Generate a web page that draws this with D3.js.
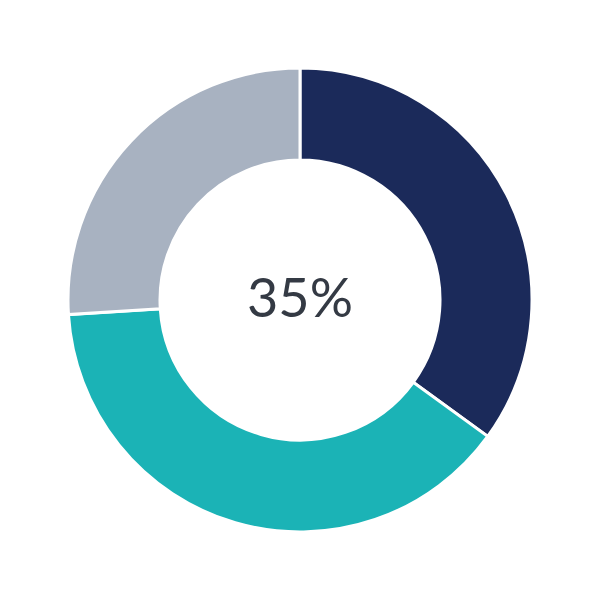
<!DOCTYPE html>
<html>
<head>
<meta charset="utf-8">
<script src="https://cdn.jsdelivr.net/npm/d3@7"></script>
<style>
  body { margin: 0; background: #fff; }
</style>
</head>
<body>
<div id="chart"></div>
<script>
var width = 600, height = 600;

// slices, clockwise from 12 o'clock
var labels = ['A', 'B', 'C'];
var values = [35, 39, 26];
var colors = ['#1b2a5a', '#1bb3b6', '#a8b2c1'];
var centerLabel = '35%';

var svg = d3.select('#chart')
	.append('svg')
	.attr('width', width)
	.attr('height', height)
	.append('g')
	.attr('transform', 'translate(' + 300 + ',' + 300 + ')');

var pie = d3.pie().sort(null).value(function(d){ return d; });
var arc = d3.arc().innerRadius(140).outerRadius(232);

var color = d3.scaleOrdinal().domain(labels).range(colors);

svg.selectAll('path')
	.data(pie(values))
	.enter().append('path')
	.attr('d', arc)
	.style('fill', function(d,i){ return color(labels[i]); })
	.style('stroke', '#fff')
	.style('stroke-width', 3);

// center text
svg.append('text')
	.attr('x', 0)
	.attr('y', 17)
	.style('text-anchor', 'middle')
	.style('font-family', 'Lato, sans-serif')
	.style('font-size', '54px')
	.style('fill', '#343a44')
	.text(centerLabel);
</script>
</body>
</html>
